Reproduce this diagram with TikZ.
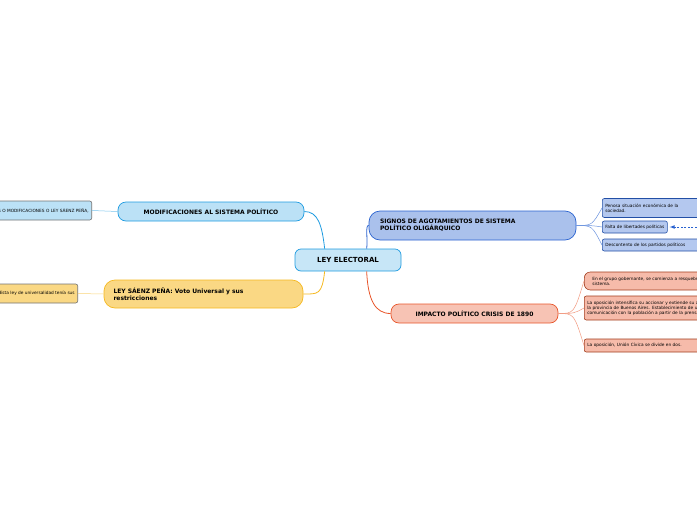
\documentclass[tikz,border=0pt]{standalone}
\usepackage{fontspec}
\setmainfont{DejaVu Sans}
\begin{document}
\begin{tikzpicture}[x=1pt,y=-1pt,
 box/.style={draw,rounded corners=6pt,line width=0.7pt,inner sep=0pt,font=\bfseries\fontsize{6}{7}\selectfont,align=left},
 leaf/.style={draw=black!55,rounded corners=2pt,line width=0.6pt,inner sep=0pt,font=\fontsize{4.3}{5.2}\selectfont,align=left,anchor=west},
 con/.style={line width=0.8pt}]
\useasboundingbox (0,0) rectangle (697,520);
\clip (0,0) rectangle (697,520);
\definecolor{cb}{HTML}{1E9BE0}\definecolor{co}{HTML}{F5B820}
\definecolor{cd}{HTML}{2A63D0}\definecolor{cr}{HTML}{E8552A}
% central
\node[box,draw=cb,fill=cb!25,minimum width=106pt,minimum height=22pt,align=center,font=\bfseries\fontsize{7}{8}\selectfont] (c) at (348,260) {LEY ELECTORAL};
\node[box,draw=cd,fill=cd!40,rounded corners=11pt,minimum width=207pt,minimum height=29pt,text width=185pt] (s) at (472.5,225.5) {SIGNOS DE AGOTAMIENTOS DE SISTEMA\\POLÍTICO OLIGÁRQUICO};
\node[box,draw=cr,fill=cr!35,rounded corners=8pt,minimum width=167pt,minimum height=19pt,align=center] (i) at (474.5,313.5) {IMPACTO POLÍTICO CRISIS DE 1890};
\node[box,draw=cb,fill=cb!30,rounded corners=8pt,minimum width=186pt,minimum height=19pt,align=center] (m) at (211,211.5) {MODIFICACIONES AL SISTEMA POLÍTICO};
\node[box,draw=co,fill=co!55,rounded corners=11pt,minimum width=199pt,minimum height=28pt,text width=180pt] (l) at (203.5,294) {LEY SÁENZ PEÑA: Voto Universal y sus\\restricciones};
% connectors from center
\draw[con,cb] (c.north west)++(30,0) .. controls (322,225) and (318,211.5) .. (m.east);
\draw[con,co] (c.south west)++(30,0) .. controls (322,295) and (318,294) .. (l.east);
\draw[con,cd] (c.north west)++(72,0) .. controls (368,240) and (365,225) .. (s.west);
\draw[con,cr] (c.south west)++(72,0) .. controls (368,300) and (375,313.5) .. (i.west);
% right blue leaves
\begin{scope}[every node/.append style={leaf,draw=cd!80!black,fill=cd!35}]
\node[minimum height=19pt,text width=110pt,inner xsep=3pt] (b1) at (602,208) {Penosa situación económica de la\\sociedad.};
\node[minimum height=12pt,inner xsep=3pt] (b2) at (602,227) {Falta de libertades políticas};
\node[minimum height=12pt,text width=110pt,inner xsep=3pt] (b3) at (602,245) {Descontento de los partidos políticos};
\end{scope}
\foreach \n in {b1,b2,b3}\draw[cd!70,line width=0.5pt] (s.east) .. controls (592,225.5) and (592,225.5) .. ([yshift=0pt]\n.west) ;
\coordinate (ar) at (700,227);
\draw[cd,line width=0.7pt,dash pattern=on 2pt off 1.5pt,-latex] (ar) -- ([xshift=2pt]b2.east);
% red leaves
\begin{scope}[every node/.append style={leaf,draw=cr!70!black,fill=cr!40}]
\node[rounded corners=6pt,minimum height=18pt,text width=140pt,inner xsep=8pt] (r1) at (584,281) {En el grupo gobernante, se comienza a resquebrajar el\\sistema.};
\node[minimum height=24pt,text width=140pt,inner xsep=3pt] (r2) at (584,308) {La oposición intensifica su accionar y extiende su acción a\\la provincia de Buenos Aires. Establecimiento de una\\comunicación con la población a partir de la prensa.};
\node[minimum height=13pt,text width=140pt,inner xsep=3pt] (r3) at (584,345.5) {La oposición, Unión Cívica se divide en dos.};
\end{scope}
\foreach \n in {r1,r2,r3}\draw[cr!60,line width=0.5pt] (i.east) .. controls (574,313.5) and (574,313.5) .. (\n.west);
% left leaves
\node[leaf,anchor=east,draw=black!55,fill=cb!30,minimum height=19pt,inner xsep=3pt] (lb) at (92,210.5) {REFORMAS ELECTORALES O MODIFICACIONES O LEY SÁENZ PEÑA,};
\node[leaf,anchor=east,draw=black!55,fill=co!55,minimum height=19pt,inner xsep=3pt] (ly) at (78,293.5) {Esta ley de universalidad tenía sus};
\draw[cb!60,line width=0.5pt] (m.west) -- (lb.east);
\draw[co!60,line width=0.5pt] (l.west) -- (ly.east);
\end{tikzpicture}
\end{document}
